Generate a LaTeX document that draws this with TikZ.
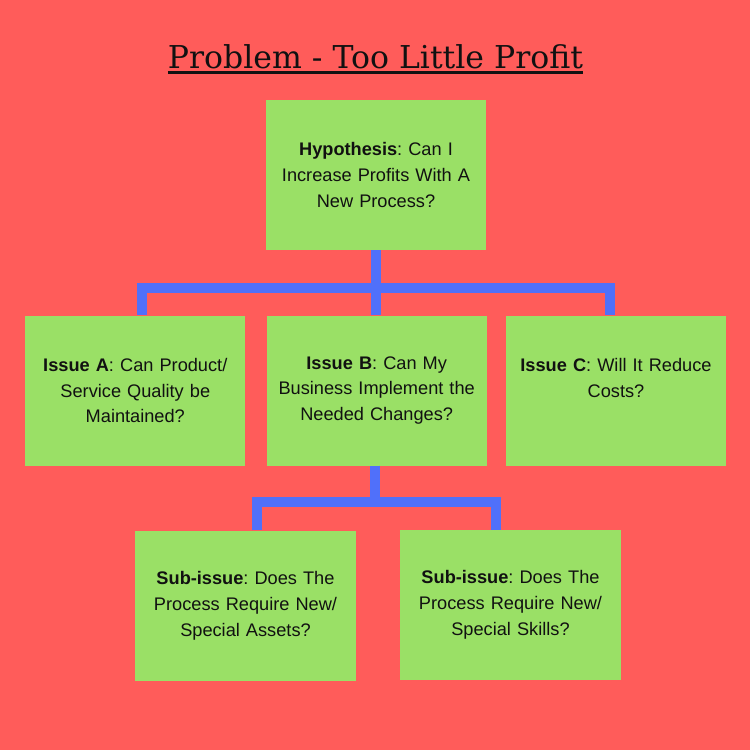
\documentclass[tikz,border=0pt]{standalone}
\usepackage{fontspec}
\setmainfont{Liberation Sans}
\newfontfamily\titlefont{DejaVu Serif}
\definecolor{bgred}{RGB}{255,92,90}
\definecolor{boxgreen}{RGB}{154,224,102}
\definecolor{connblue}{RGB}{80,112,250}
\definecolor{inktext}{RGB}{17,17,17}
\frenchspacing
\begin{document}
\begin{tikzpicture}[x=1pt,y=-1pt,
  box/.style={fill=boxgreen, minimum width=220pt, minimum height=150pt, inner sep=0pt,
    text width=220pt, align=center, text=inktext,
    font=\fontsize{18.2}{25.8}\selectfont},
  conn/.style={draw=connblue, line width=10pt, line join=miter}]
\fill[bgred] (0,0) rectangle (750,750);
\useasboundingbox (0,0) rectangle (750,750);
% title
\node[anchor=base, inner sep=0pt, text=inktext, font=\titlefont\fontsize{31.5}{34}\selectfont] (title) at (375.5,68) {Problem - Too Little Profit};
\draw[inktext, line width=2.4pt] ([yshift=-4.5pt]title.base west) -- ([yshift=-4.5pt]title.base east);
% boxes
\node[box] (hyp) at (376,175) {\textbf{Hypothesis}: Can I\\ Increase Profits With A\\ New Process?};
\node[box] (A) at (135.3,390.5) {\textbf{Issue A}: Can Product/\\ Service Quality be\\ Maintained?};
\node[box] (B) at (376.7,390.5) {\textbf{Issue B}: Can My\\ Business Implement the\\ Needed Changes?};
\node[box] (C) at (616,390.5) {\textbf{Issue C}: Will It Reduce\\ Costs?\\ \mbox{}};
\node[box, minimum width=221pt] (S1) at (245.5,605.5) {\textbf{Sub-issue}: Does The\\ Process Require New/\\ Special Assets?};
\node[box, minimum width=221pt] (S2) at (510.5,605) {\textbf{Sub-issue}: Does The\\ Process Require New/\\ Special Skills?};
% connectors level 1
\coordinate (b1L) at (141.7,288);
\coordinate (b1R) at (610,288);
\coordinate (b1M) at (375.7,288);
\draw[conn] (hyp.south -| b1M) -- (b1M);
\draw[conn] (B.north -| b1M) -- (b1M);
\draw[conn] (b1L |- A.north) -- (b1L) -- (b1R) -- (b1R |- C.north);
% connectors level 2
\coordinate (b2L) at (256.7,502);
\coordinate (b2R) at (495.7,502);
\coordinate (b2M) at (375,502);
\draw[conn] (B.south -| b2M) -- (b2M);
\draw[conn] (b2L |- S1.north) -- (b2L) -- (b2R) -- (b2R |- S2.north);
\end{tikzpicture}
\end{document}
